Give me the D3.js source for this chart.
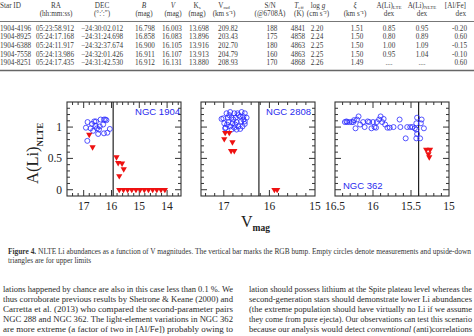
<!DOCTYPE html>
<html><head><meta charset="utf-8">
<script src="https://cdn.jsdelivr.net/npm/d3@7"></script>
<style>body{margin:0;background:#fff}svg{display:block}</style>
</head><body>
<script>
// ---------- table data ----------
const tableHeaders1 = ["Star ID","RA","DEC","B","V","Ks","Vrad","S/N","Teff","log g","ξ","A(Li)LTE","A(Li)NLTE","[Al/Fe]"];
const tableHeaders2 = ["","(hh:mm:ss)","(°:′:″)","(mag)","(mag)","(mag)","(km s⁻¹)","(@6708Å)","(K)","(cm s⁻²)","(km s⁻¹)","dex","dex","dex"];
const starIds = ["1904-4196","1904-8925","1904-6388","1904-7558","1904-8251"];
const raList = ["05:23:58.912","05:24:17.168","05:24:11.917","05:24:13.986","05:24:17.435"];
const decList = ["−24:30:02.012","−24:31:24.698","−24:32:37.674","−24:32:01.426","−24:31:42.530"];
const bMag = ["16.798","16.858","16.900","16.911","16.912"];
const vMag = ["16.003","16.083","16.105","16.107","16.131"];
const ksMag = ["13.698","13.896","13.916","13.913","13.880"];
const vRad = ["209.82","203.43","202.70","204.79","208.93"];
const snr = ["188","175","180","160","170"];
const teff = ["4841","4858","4863","4863","4868"];
const logg = ["2.20","2.24","2.25","2.25","2.26"];
const xiList = ["1.51","1.50","1.50","1.50","1.49"];
const aLiLTE = ["0.85","0.80","1.00","0.95","...."];
const aLiNLTE = ["0.95","0.89","1.09","1.04","...."];
const alFe = ["-0.20","0.60","-0.15","-0.10","0.60"];

// ---------- chart data ----------
const clusterNames = ["NGC 1904","NGC 2808","NGC 362"];
const xDomains = [[17.6,13.5],[17.5,15],[16.5,15]];
const yDomain = [-0.1,1.4];
const bumpV = [15.94,16.23,15.40];
const xTickLabels = [[17,16,15,14],[17,16,15],[16.5,16,15.5,15]];
const xMinorStep = [0.2,0.2,0.1];
const yTickLabels = [0,0.5,1];

const ngc1904Det = [[16.86,1.08],[16.92,0.99],[16.87,0.78],[16.75,0.98],[16.62,1.09],[16.56,1.09],[16.66,0.94],[16.52,0.98],[16.45,0.96],[16.48,0.89],[16.39,1.12],[16.27,1.12],[16.18,1.11],[16.22,1.12],[16.30,1.04],[16.42,1.01],[16.27,0.90],[16.15,0.91],[16.06,0.97],[16.70,1.05],[16.58,1.02]];
const ngc1904Lim = [[16.80,0.88],[16.68,0.68],[15.82,0.52],[15.76,0.43],[15.62,0.42],[15.56,0.33],[15.72,0.22],[15.72,0],[15.57,0],[15.42,0],[15.27,0],[15.12,0],[14.97,0],[14.82,0],[14.67,0],[14.52,0],[14.37,0],[14.22,0],[14.08,0]];
const ngc2808Det = [[16.94,1.22],[16.86,1.24],[16.77,1.22],[16.70,1.22],[16.61,1.24],[16.54,1.22],[17.01,1.14],[16.91,1.15],[16.83,1.15],[16.74,1.15],[16.64,1.17],[16.57,1.17],[16.50,1.15],[16.99,1.06],[16.90,1.08],[16.81,1.06],[16.72,1.08],[16.62,1.09],[16.54,1.09],[16.96,0.99],[16.86,1.01],[16.77,0.99],[16.68,1.01],[16.59,1.01],[16.83,0.96],[16.72,0.96],[16.64,0.97],[16.88,1.19],[16.68,1.19],[16.79,1.12],[16.57,1.12],[16.93,1.04],[16.54,1.05],[16.75,1.04],[17.05,1.13],[16.97,0.98]];
const ngc2808Lim = [[16.97,0.91],[16.88,0.91],[16.99,0.81],[16.81,0.76],[16.84,0.62],[16.77,0.62],[15.89,0],[15.83,0]];
const ngc362Det = [[16.37,1.08],[16.34,1.08],[16.31,1.08],[16.28,1.08],[16.26,1.08],[16.35,1.09],[16.23,0.98],[16.21,1.12],[16.19,1.17],[16.25,1.11],[16.13,1.08],[16.11,1.00],[16.07,1.09],[16.05,1.08],[16.02,0.98],[16.00,1.08],[15.98,1.00],[15.95,1.08],[15.92,1.12],[15.90,1.17],[15.88,1.08],[15.86,1.13],[15.84,1.04],[15.81,0.99],[15.78,0.99],[15.73,1.00],[15.65,1.12],[15.64,1.00],[15.57,0.82],[15.55,1.00],[15.51,1.00],[15.48,1.00],[15.45,0.98],[15.43,1.06],[15.42,1.15],[15.43,0.96],[15.42,0.89],[15.38,0.82],[15.43,0.82],[15.37,1.06],[15.36,1.12],[15.33,0.98],[16.17,1.04],[15.96,0.99]];
const ngc362Lim = [[15.30,0.64],[15.25,0.64],[15.27,0.57],[15.26,0.52]];

// ---------- text ----------
const captionLines = ["NLTE Li abundances as a function of V magnitudes. The vertical bar marks the RGB bump. Empty circles denote measurements and upside-down","triangles are for upper limits"];
const leftColumn = ["lations happened by chance are also in this case less than 0.1 %. We","thus corroborate previous results by Shetrone & Keane (2000) and","Carretta et al. (2013) who compared the second-parameter pairs","NGC 288 and NGC 362. The light-element variations in NGC 362","are more extreme (a factor of two in [Al/Fe]) probably owing to"];
const rightColumn = ["lation should possess lithium at the Spite plateau level whereas the","second-generation stars should demonstrate lower Li abundances","(the extreme population should have virtually no Li if we assume","they come from pure ejecta). Our observations can test this scenario","because our analysis would detect conventional (anti)correlations"];

// ---------- drawing ----------
const W=474,H=336;
const serif="'Liberation Serif','Times New Roman',serif";
const sans="'Liberation Sans',Arial,sans-serif";
const svg=d3.select("body").append("svg").attr("width",W).attr("height",H);
svg.append("rect").attr("width",W).attr("height",H).attr("fill","#fff");

// table
const colX=[0,55,102,145,172,199,228,272,298,317,357,389,422,467];
const colAnchor=["start","middle","middle","middle","middle","middle","middle","middle","middle","middle","middle","middle","middle","end"];
const hdrX=[0,56,102,144,173,197,224,270,299,318,355,389,422,466];
const tcol="#3a3a3a";
const tbl=svg.append("g").attr("font-family",serif).attr("fill",tcol).attr("font-size",7.2);
tableHeaders1.forEach((h,i)=>{
  const t=tbl.append("text").attr("x",hdrX[i]).attr("y",7.5).attr("text-anchor",i===0?"start":(i===13?"end":"middle"));
  if(h==="Ks"){t.text("K");t.append("tspan").attr("font-size",5).attr("dy",1.5).text("s");}
  else if(h==="Vrad"){t.text("V");t.append("tspan").attr("font-size",5).attr("dy",1.5).text("rad");}
  else if(h==="Teff"){t.append("tspan").attr("font-style","italic").text("T");t.append("tspan").attr("font-size",5).attr("dy",1.5).text("eff");}
  else if(h==="A(Li)LTE"){t.text("A(Li)");t.append("tspan").attr("font-size",5).attr("dy",1.5).text("LTE");}
  else if(h==="A(Li)NLTE"){t.text("A(Li)");t.append("tspan").attr("font-size",5).attr("dy",1.5).text("NLTE");}
  else if(h==="log g"){t.text("log ");t.append("tspan").attr("font-style","italic").text("g");}
  else if(h==="B"||h==="V"||h==="ξ"){t.attr("font-style","italic").text(h);}
  else t.text(h);
});
tableHeaders2.forEach((h,i)=>{
  tbl.append("text").attr("x",hdrX[i]).attr("y",16).attr("text-anchor",i===13?"end":"middle").text(h);
});
tbl.append("line").attr("x1",0).attr("x2",W).attr("y1",21.5).attr("y2",21.5).attr("stroke","#777").attr("stroke-width",1);
tbl.append("line").attr("x1",0).attr("x2",W).attr("y1",70.5).attr("y2",70.5).attr("stroke","#666").attr("stroke-width",1.6);
const rowsY=[30.5,39.2,47.9,56.6,65.3];
const cols=[starIds,raList,decList,bMag,vMag,ksMag,vRad,snr,teff,logg,xiList,aLiLTE,aLiNLTE,alFe];
cols.forEach((arr,ci)=>{
  arr.forEach((v,ri)=>{
    tbl.append("text").attr("x",colX[ci]).attr("y",rowsY[ri]).attr("text-anchor",colAnchor[ci]).text(v);
  });
});

// panels
const panelLeft=[67,201,335], panelW=114, panelTop=102, panelBottom=196;
const y=d3.scaleLinear().domain(yDomain).range([panelBottom,panelTop]);
const detSets=[ngc1904Det,ngc2808Det,ngc362Det];
const limSets=[ngc1904Lim,ngc2808Lim,ngc362Lim];
const axisCol="#333";
const tri=d3.symbol().type(d3.symbolTriangle).size(17);
function stepValues(lo,hi,step){
  const a=Math.ceil(lo/step-1e-6), b=Math.floor(hi/step+1e-6);
  return d3.range(a,b+1).map(k=>+(k*step).toFixed(4));
}
clusterNames.forEach((name,i)=>{
  const x=d3.scaleLinear().domain(xDomains[i]).range([panelLeft[i],panelLeft[i]+panelW]);
  const g=svg.append("g");
  const lo=Math.min(...xDomains[i]), hi=Math.max(...xDomains[i]);
  const majors=xTickLabels[i];
  const isMaj=v=>majors.some(m=>Math.abs(m-v)<1e-6);
  stepValues(lo,hi,xMinorStep[i]).forEach(v=>{
    if(Math.abs(v-lo)<1e-6||Math.abs(v-hi)<1e-6) return;
    const L=isMaj(v)?6:3, px=x(v);
    g.append("line").attr("x1",px).attr("x2",px).attr("y1",panelBottom).attr("y2",panelBottom-L).attr("stroke",axisCol);
    g.append("line").attr("x1",px).attr("x2",px).attr("y1",panelTop).attr("y2",panelTop+L).attr("stroke",axisCol);
  });
  stepValues(yDomain[0],yDomain[1],0.1).forEach(v=>{
    if(Math.abs(v-yDomain[0])<1e-6||Math.abs(v-yDomain[1])<1e-6) return;
    const L=yTickLabels.some(m=>Math.abs(m-v)<1e-6)?6:3, py=y(v);
    g.append("line").attr("x1",panelLeft[i]).attr("x2",panelLeft[i]+L).attr("y1",py).attr("y2",py).attr("stroke",axisCol);
    g.append("line").attr("x1",panelLeft[i]+panelW).attr("x2",panelLeft[i]+panelW-L).attr("y1",py).attr("y2",py).attr("stroke",axisCol);
  });
  g.append("rect").attr("x",panelLeft[i]).attr("y",panelTop).attr("width",panelW).attr("height",panelBottom-panelTop)
    .attr("fill","none").attr("stroke",axisCol).attr("stroke-width",1.1);
  majors.forEach(v=>{
    g.append("text").attr("x",x(v)).attr("y",209.5).attr("text-anchor","middle")
     .attr("font-family",serif).attr("font-size",11.5).attr("fill","#222").text(v);
  });
  if(i===0){
    yTickLabels.forEach(v=>{
      g.append("text").attr("x",62).attr("y",y(v)+4).attr("text-anchor","end")
       .attr("font-family",serif).attr("font-size",11.5).attr("fill","#222").text(v);
    });
  }
  // bump bar
  g.append("line").attr("x1",x(bumpV[i])).attr("x2",x(bumpV[i])).attr("y1",panelTop).attr("y2",panelBottom)
    .attr("stroke","#222").attr("stroke-width",1.2);
  // detections
  g.selectAll("circle.d").data(detSets[i]).join("circle").attr("class","d")
    .attr("cx",d=>x(d[0])).attr("cy",d=>y(d[1])).attr("r",2.5)
    .attr("fill","none").attr("stroke","#2a2aff").attr("stroke-width",0.8);
  // upper limits
  g.selectAll("path.l").data(limSets[i]).join("path").attr("class","l")
    .attr("d",tri).attr("transform",d=>`translate(${x(d[0])},${y(d[1])}) rotate(180)`)
    .attr("fill","#ee1111");
  // cluster label
  const lab=g.append("text").attr("font-family",sans).attr("font-size",9.5).attr("fill","#2a2aee").text(name);
  if(i===0) lab.attr("x",180).attr("y",115).attr("text-anchor","end");
  if(i===1) lab.attr("x",311).attr("y",114.5).attr("text-anchor","end");
  if(i===2) lab.attr("x",343).attr("y",189);
});

// axis titles
const yt=svg.append("text").attr("transform","translate(38,184) rotate(-90)")
  .attr("font-family",serif).attr("font-size",16.5).attr("fill","#222");
yt.append("tspan").text("A(Li)");
yt.append("tspan").attr("dy",5).attr("font-size",9).attr("font-weight","bold").text("NLTE");
const xt=svg.append("text").attr("x",241).attr("y",227).attr("font-family",serif).attr("font-size",16).attr("fill","#222");
xt.append("tspan").text("V");
xt.append("tspan").attr("dy",4).attr("font-size",9.5).attr("font-weight","bold").text("mag");

// caption
const cap=svg.append("g").attr("font-family",serif).attr("font-size",7.3).attr("fill","#333");
const c1=cap.append("text").attr("x",8).attr("y",254).attr("textLength",463).attr("lengthAdjust","spacingAndGlyphs");
c1.append("tspan").attr("font-weight","bold").text("Figure 4. ");
c1.append("tspan").text(captionLines[0]);
cap.append("text").attr("x",8).attr("y",263).text(captionLines[1]);

// body text
const body=svg.append("g").attr("font-family",serif).attr("font-size",8.2).attr("fill","#2a2a2a");
const bodyY=[292,302.3,312.3,322.3,332.3];
leftColumn.forEach((s,k)=>{
  body.append("text").attr("x",3).attr("y",bodyY[k]).attr("textLength",230).attr("lengthAdjust","spacingAndGlyphs").text(s);
});
rightColumn.forEach((s,k)=>{
  const t=body.append("text").attr("x",249).attr("y",bodyY[k]).attr("textLength",223).attr("lengthAdjust","spacingAndGlyphs");
  if(k===4){
    t.append("tspan").text("because our analysis would detect ");
    t.append("tspan").attr("font-style","italic").text("conventional");
    t.append("tspan").text(" (anti)correlations");
  } else t.text(s);
});
</script>
</body></html>
